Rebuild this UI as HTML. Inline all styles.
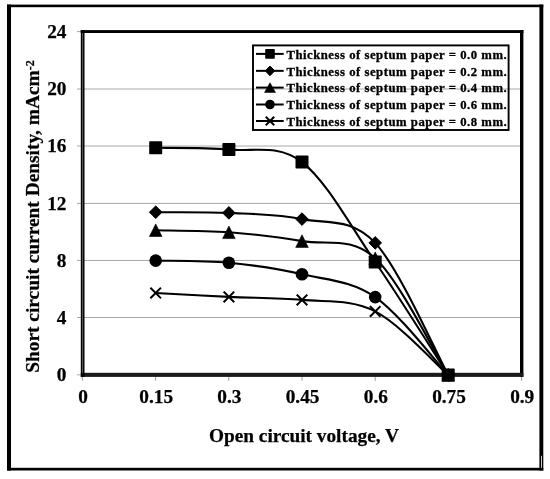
<!DOCTYPE html>
<html><head><meta charset="utf-8"><style>
html,body{margin:0;padding:0;background:#fff;}
svg{display:block;}
.tk{font-family:"Liberation Serif",serif;font-weight:bold;font-size:19.3px;fill:#000;stroke:#000;stroke-width:0.25px;}
.lg{font-family:"Liberation Serif",serif;font-weight:bold;font-size:12.7px;letter-spacing:0.53px;fill:#000;stroke:#000;stroke-width:0.3px;}
</style></head><body>
<svg width="550" height="479" viewBox="0 0 550 479">
<line x1="77" y1="317.5" x2="521" y2="317.5" stroke="#a8a8a8" stroke-width="1"/>
<line x1="77" y1="260.45" x2="521" y2="260.45" stroke="#a8a8a8" stroke-width="1"/>
<line x1="77" y1="203.4" x2="521" y2="203.4" stroke="#a8a8a8" stroke-width="1"/>
<line x1="77" y1="146.0" x2="521" y2="146.0" stroke="#a8a8a8" stroke-width="1"/>
<line x1="77" y1="89.0" x2="521" y2="89.0" stroke="#a8a8a8" stroke-width="1"/>
<line x1="77" y1="31.6" x2="82" y2="31.6" stroke="#a8a8a8" stroke-width="1"/>
<line x1="77" y1="374.8" x2="82" y2="374.8" stroke="#a8a8a8" stroke-width="1"/>
<line x1="82.40" y1="376" x2="82.40" y2="380.7" stroke="#999" stroke-width="1"/>
<line x1="155.60" y1="376" x2="155.60" y2="380.7" stroke="#999" stroke-width="1"/>
<line x1="228.80" y1="376" x2="228.80" y2="380.7" stroke="#999" stroke-width="1"/>
<line x1="302.00" y1="376" x2="302.00" y2="380.7" stroke="#999" stroke-width="1"/>
<line x1="375.20" y1="376" x2="375.20" y2="380.7" stroke="#999" stroke-width="1"/>
<line x1="448.40" y1="376" x2="448.40" y2="380.7" stroke="#999" stroke-width="1"/>
<line x1="521.60" y1="376" x2="521.60" y2="380.7" stroke="#999" stroke-width="1"/>
<rect x="80.7" y="30.1" width="442.7" height="2.9" fill="#000"/>
<rect x="520.0" y="30.1" width="3.4" height="346.8" fill="#000"/>
<rect x="80.8" y="372.8" width="442.6" height="4.1" fill="#1a1a1a"/>
<rect x="80.8" y="30.1" width="3.7" height="346.8" fill="#000"/>
<rect x="82.0" y="33" width="1.1" height="339.8" fill="#555"/>
<path d="M155.70,147.80 C167.90,148.10 204.52,147.22 228.90,149.60 C253.28,151.98 277.62,143.37 302.00,162.10 C326.38,180.83 350.83,226.52 375.20,262.00 C399.57,297.48 436.03,356.17 448.20,375.00" fill="none" stroke="#000" stroke-width="2.1"/>
<path d="M155.70,212.20 C167.90,212.32 204.52,211.75 228.90,212.90 C253.28,214.05 277.62,214.10 302.00,219.10 C326.38,224.10 350.83,216.92 375.20,242.90 C399.57,268.88 436.03,352.98 448.20,375.00" fill="none" stroke="#000" stroke-width="2.1"/>
<path d="M155.70,230.20 C167.90,230.55 204.52,230.48 228.90,232.30 C253.28,234.12 277.62,236.78 302.00,241.10 C326.38,245.42 350.83,235.88 375.20,258.20 C399.57,280.52 436.03,355.53 448.20,375.00" fill="none" stroke="#000" stroke-width="2.1"/>
<path d="M155.70,260.60 C167.90,260.97 204.52,260.52 228.90,262.80 C253.28,265.08 277.62,268.58 302.00,274.30 C326.38,280.02 350.83,280.32 375.20,297.10 C399.57,313.88 436.03,362.02 448.20,375.00" fill="none" stroke="#000" stroke-width="2.1"/>
<path d="M155.70,293.00 C167.90,293.65 204.52,295.75 228.90,296.90 C253.28,298.05 277.62,297.48 302.00,299.90 C326.38,302.32 350.83,298.88 375.20,311.40 C399.57,323.92 436.03,364.40 448.20,375.00" fill="none" stroke="#000" stroke-width="2.1"/>
<rect x="149.20" y="141.30" width="13.00" height="13.00" rx="0.8" fill="#000"/>
<rect x="222.40" y="143.10" width="13.00" height="13.00" rx="0.8" fill="#000"/>
<rect x="295.50" y="155.60" width="13.00" height="13.00" rx="0.8" fill="#000"/>
<rect x="368.70" y="255.50" width="13.00" height="13.00" rx="0.8" fill="#000"/>
<rect x="441.70" y="368.50" width="13.00" height="13.00" rx="0.8" fill="#000"/>
<polygon points="155.70,205.90 162.00,212.20 155.70,218.50 149.40,212.20" fill="#000" stroke="#000" stroke-width="1" stroke-linejoin="round"/>
<polygon points="228.90,206.60 235.20,212.90 228.90,219.20 222.60,212.90" fill="#000" stroke="#000" stroke-width="1" stroke-linejoin="round"/>
<polygon points="302.00,212.80 308.30,219.10 302.00,225.40 295.70,219.10" fill="#000" stroke="#000" stroke-width="1" stroke-linejoin="round"/>
<polygon points="375.20,236.60 381.50,242.90 375.20,249.20 368.90,242.90" fill="#000" stroke="#000" stroke-width="1" stroke-linejoin="round"/>
<polygon points="448.20,368.70 454.50,375.00 448.20,381.30 441.90,375.00" fill="#000" stroke="#000" stroke-width="1" stroke-linejoin="round"/>
<polygon points="155.70,223.90 162.00,236.50 149.40,236.50" fill="#000" stroke="#000" stroke-width="0.6" stroke-linejoin="round"/>
<polygon points="228.90,226.00 235.20,238.60 222.60,238.60" fill="#000" stroke="#000" stroke-width="0.6" stroke-linejoin="round"/>
<polygon points="302.00,234.80 308.30,247.40 295.70,247.40" fill="#000" stroke="#000" stroke-width="0.6" stroke-linejoin="round"/>
<polygon points="375.20,251.90 381.50,264.50 368.90,264.50" fill="#000" stroke="#000" stroke-width="0.6" stroke-linejoin="round"/>
<polygon points="448.20,368.70 454.50,381.30 441.90,381.30" fill="#000" stroke="#000" stroke-width="0.6" stroke-linejoin="round"/>
<circle cx="155.70" cy="260.60" r="6.30" fill="#000"/>
<circle cx="228.90" cy="262.80" r="6.30" fill="#000"/>
<circle cx="302.00" cy="274.30" r="6.30" fill="#000"/>
<circle cx="375.20" cy="297.10" r="6.30" fill="#000"/>
<circle cx="448.20" cy="375.00" r="6.30" fill="#000"/>
<path d="M151.10,288.40 L160.30,297.60 M160.30,288.40 L151.10,297.60" stroke="#000" stroke-width="2" stroke-linecap="square"/>
<path d="M224.30,292.30 L233.50,301.50 M233.50,292.30 L224.30,301.50" stroke="#000" stroke-width="2" stroke-linecap="square"/>
<path d="M297.40,295.30 L306.60,304.50 M306.60,295.30 L297.40,304.50" stroke="#000" stroke-width="2" stroke-linecap="square"/>
<path d="M370.60,306.80 L379.80,316.00 M379.80,306.80 L370.60,316.00" stroke="#000" stroke-width="2" stroke-linecap="square"/>
<path d="M443.60,370.40 L452.80,379.60 M452.80,370.40 L443.60,379.60" stroke="#000" stroke-width="2" stroke-linecap="square"/>
<rect x="253.0" y="45.4" width="255.6" height="84.6" fill="none" stroke="#000" stroke-width="1.9"/>
<line x1="256" y1="53.9" x2="283.7" y2="53.9" stroke="#000" stroke-width="2"/>
<rect x="265.20" y="49.10" width="9.60" height="9.60" rx="0.8" fill="#000"/>
<line x1="256" y1="70.85" x2="283.7" y2="70.85" stroke="#000" stroke-width="2"/>
<polygon points="270.00,66.05 274.80,70.85 270.00,75.65 265.20,70.85" fill="#000" stroke="#000" stroke-width="1" stroke-linejoin="round"/>
<line x1="256" y1="87.6" x2="283.7" y2="87.6" stroke="#000" stroke-width="2"/>
<polygon points="270.00,82.80 275.47,92.40 264.53,92.40" fill="#000" stroke="#000" stroke-width="0.6" stroke-linejoin="round"/>
<line x1="256" y1="104.5" x2="283.7" y2="104.5" stroke="#000" stroke-width="2"/>
<circle cx="270.00" cy="104.50" r="4.80" fill="#000"/>
<line x1="256" y1="121.0" x2="283.7" y2="121.0" stroke="#000" stroke-width="2"/>
<path d="M266.50,117.50 L273.50,124.50 M273.50,117.50 L266.50,124.50" stroke="#000" stroke-width="2" stroke-linecap="square"/>
<text x="286.4" y="58.7" class="lg">Thickness of septum paper = 0.0 mm.</text>
<text x="286.4" y="75.6" class="lg">Thickness of septum paper = 0.2 mm.</text>
<text x="286.4" y="92.4" class="lg">Thickness of septum paper = 0.4 mm.</text>
<text x="286.4" y="109.3" class="lg">Thickness of septum paper = 0.6 mm.</text>
<text x="286.4" y="125.8" class="lg">Thickness of septum paper = 0.8 mm.</text>
<text x="66.5" y="381.2" class="tk" text-anchor="end">0</text>
<text x="66.5" y="323.9" class="tk" text-anchor="end">4</text>
<text x="66.5" y="266.8" class="tk" text-anchor="end">8</text>
<text x="66.5" y="209.8" class="tk" text-anchor="end">12</text>
<text x="66.5" y="152.4" class="tk" text-anchor="end">16</text>
<text x="66.5" y="95.4" class="tk" text-anchor="end">20</text>
<text x="66.5" y="38.0" class="tk" text-anchor="end">24</text>
<text x="83.00" y="403.3" class="tk" text-anchor="middle">0</text>
<text x="156.20" y="403.3" class="tk" text-anchor="middle">0.15</text>
<text x="229.40" y="403.3" class="tk" text-anchor="middle">0.3</text>
<text x="302.60" y="403.3" class="tk" text-anchor="middle">0.45</text>
<text x="375.80" y="403.3" class="tk" text-anchor="middle">0.6</text>
<text x="449.00" y="403.3" class="tk" text-anchor="middle">0.75</text>
<text x="522.20" y="403.3" class="tk" text-anchor="middle">0.9</text>
<text x="304" y="441.7" class="tk" text-anchor="middle">Open circuit voltage, V</text>
<text transform="translate(39.4,372.8) rotate(-90)" class="tk" style="font-size:19.4px">Short circuit current Density, mAcm<tspan dy="-5.4" font-size="12">-2</tspan></text>
<rect x="7" y="4.6" width="536.3" height="2.6" fill="#000"/>
<rect x="7" y="467.8" width="536.3" height="2.7" fill="#000"/>
<rect x="7" y="4.6" width="4" height="465.9" fill="#000"/>
<rect x="539.4" y="4.6" width="3.9" height="465.9" fill="#000"/>
<rect x="541.0" y="455.8" width="1.0" height="12.0" fill="#c8c8c8"/>
</svg>
</body></html>
